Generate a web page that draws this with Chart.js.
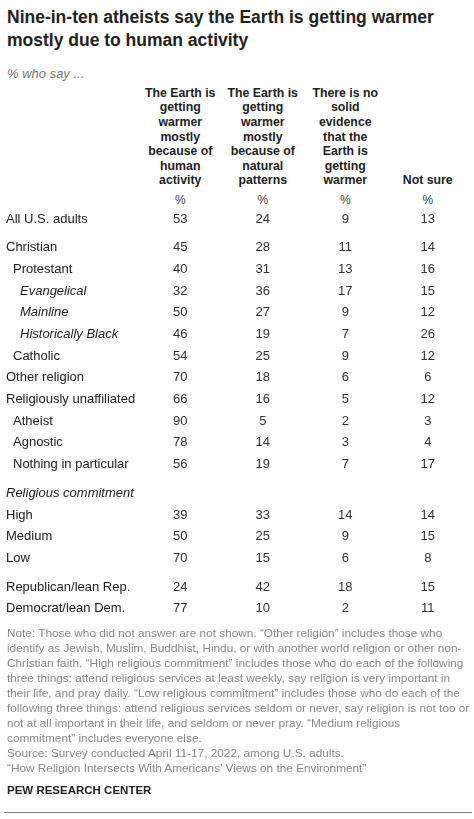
<!DOCTYPE html>
<html><head><meta charset="utf-8">
<script src="https://cdn.jsdelivr.net/npm/chart.js@4"></script>
<style>
body{margin:0;width:474px;height:819px;background:#fff;font-family:"Liberation Sans",Arial,sans-serif;color:#222;position:relative;overflow:hidden}
#title{position:absolute;left:7px;top:6px;width:465px;font-size:17.5px;font-weight:bold;line-height:23px}
#sub{position:absolute;left:7px;top:66px;font-size:13px;font-style:italic;color:#777}
.hd{position:absolute;top:92px;height:96px;width:76px;display:flex;align-items:flex-end;justify-content:center;text-align:center;font-size:12.3px;font-weight:bold;line-height:14.6px}
.pc{position:absolute;top:193px;font-size:12px;color:#444;transform:translateX(-50%)}
#wrap{position:absolute;left:0;top:190px;width:474px;height:440px}
#note{position:absolute;left:7px;top:626px;width:464px;font-size:11.8px;line-height:15px;color:#888}
#pew{position:absolute;left:7px;top:784px;font-size:11.5px;font-weight:bold;color:#222}
#rule{position:absolute;left:4px;top:812px;width:468px;height:1px;background:#888}
</style></head><body>
<div id="title">Nine-in-ten atheists say the Earth is getting warmer mostly due to human activity</div>
<div id="sub">% who say ...</div>
<div id="heads"></div>
<div id="wrap"><canvas id="tbl"></canvas></div>
<div id="note">Note: Those who did not answer are not shown. “Other religion” includes those who identify as Jewish, Muslim, Buddhist, Hindu, or with another world religion or other non-Christian faith. “High religious commitment” includes those who do each of the following three things: attend religious services at least weekly, say religion is very important in their life, and pray daily. “Low religious commitment” includes those who do each of the following three things: attend religious services seldom or never, say religion is not too or not at all important in their life, and seldom or never pray. “Medium religious commitment” includes everyone else.<br>Source: Survey conducted April 11-17, 2022, among U.S. adults.<br>“How Religion Intersects With Americans’ Views on the Environment”</div>
<div id="pew">PEW RESEARCH CENTER</div>
<div id="rule"></div>
<script>
const columns = ['The Earth is getting warmer mostly because of human activity',
  'The Earth is getting warmer mostly because of natural patterns',
  'There is no solid evidence that the Earth is getting warmer',
  'Not sure'];
const rows = ['All U.S. adults','Christian','Protestant','Evangelical','Mainline','Historically Black',
  'Catholic','Other religion','Religiously unaffiliated','Atheist','Agnostic','Nothing in particular',
  'Religious commitment','High','Medium','Low','Republican/lean Rep.','Democrat/lean Dem.'];
const indent = [0,0,1,2,2,2,1,0,0,1,1,1,0,0,0,0,0,0];
const italicRows = ['Evangelical','Mainline','Historically Black','Religious commitment'];
const gapBefore = ['Christian','Religious commitment','Republican/lean Rep.'];
const human   = [53,45,40,32,50,46,54,70,66,90,78,56,null,39,50,70,24,77];
const natural = [24,28,31,36,27,19,25,18,16,5,14,19,null,33,25,15,42,10];
const noEvid  = [9,11,13,17,9,7,9,6,5,2,3,7,null,14,9,6,18,2];
const notSure = [13,14,16,15,12,26,12,6,12,3,4,17,null,14,15,8,15,11];
const series = [human, natural, noEvid, notSure];

// row positions on the y scale (index plus small group gaps)
let acc = 0;
const rowY = rows.map((r, i) => { if (gapBefore.includes(r)) acc += 0.33; return i + acc; });

const font = '13px "Liberation Sans", Arial, sans-serif';
const labelPlugin = {
  id: 'cells',
  afterDatasetsDraw(chart) {
    const ctx = chart.ctx, ys = chart.scales.y;
    ctx.save();
    ctx.textBaseline = 'middle';
    rows.forEach((r, i) => {
      ctx.font = (italicRows.includes(r) ? 'italic ' : '') + font;
      ctx.fillStyle = '#222';
      ctx.textAlign = 'left';
      ctx.fillText(r, 6 + indent[i] * 7, ys.getPixelForValue(rowY[i]));
    });
    chart.data.datasets.forEach((ds, di) => {
      chart.getDatasetMeta(di).data.forEach((pt, k) => {
        ctx.font = font; ctx.textAlign = 'center'; ctx.fillStyle = '#333';
        ctx.fillText(ds.data[k].v, pt.x, pt.y);
      });
    });
    ctx.restore();
  }
};

const heads = document.getElementById('heads');
new Chart(document.getElementById('tbl'), {
  type: 'scatter',
  data: {
    datasets: series.map((s, c) => ({
      data: s.map((v, i) => ({x: columns[c], y: rowY[i], v: v})).filter(p => p.v !== null),
      pointRadius: 0
    }))
  },
  options: {
    responsive: true, maintainAspectRatio: false, animation: false,
    layout: {padding: {left: 139, right: 5, top: 29, bottom: 21}},
    scales: {
      x: {type: 'category', labels: columns, offset: true, display: false},
      y: {type: 'linear', min: 0, max: 18, reverse: true, display: false}
    },
    plugins: {legend: {display: false}, tooltip: {enabled: false}}
  },
  plugins: [labelPlugin, {
    id: 'heads',
    afterLayout(chart) {
      heads.innerHTML = '';
      columns.forEach((c, i) => {
        const x = chart.scales.x.getPixelForValue(i);
        const d = document.createElement('div');
        d.className = 'hd'; d.style.left = (x - 38) + 'px'; d.textContent = c;
        heads.appendChild(d);
        const p = document.createElement('div');
        p.className = 'pc'; p.style.left = x + 'px'; p.textContent = '%';
        heads.appendChild(p);
      });
    }
  }]
});
</script>
</body></html>
